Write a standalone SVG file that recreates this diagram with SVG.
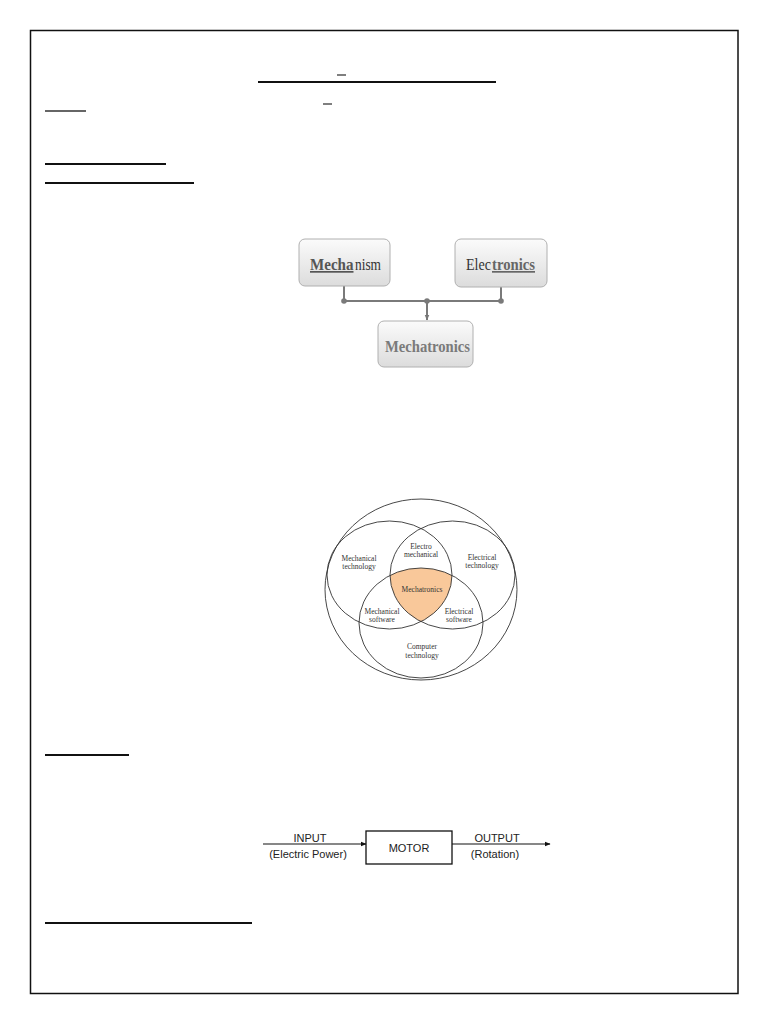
<svg xmlns="http://www.w3.org/2000/svg" width="768" height="1024" viewBox="0 0 768 1024">
<defs>
<linearGradient id="boxg" x1="0" y1="0" x2="0" y2="1">
<stop offset="0" stop-color="#fbfbfb"/>
<stop offset="1" stop-color="#dcdcdc"/>
</linearGradient>
<marker id="arr" viewBox="0 0 10 10" refX="9" refY="5" markerWidth="6" markerHeight="6" orient="auto" markerUnits="userSpaceOnUse">
<path d="M0,1 L10,5 L0,9 z" fill="#111"/>
</marker>
<marker id="garr" viewBox="0 0 10 10" refX="9" refY="5" markerWidth="6" markerHeight="6" orient="auto" markerUnits="userSpaceOnUse">
<path d="M0,1 L10,5 L0,9 z" fill="#777"/>
</marker>
<clipPath id="cL"><ellipse cx="389.5" cy="575" rx="62.5" ry="54"/></clipPath>
<clipPath id="cR"><ellipse cx="452.5" cy="575" rx="62.5" ry="54"/></clipPath>
</defs>
<style>
.ul{stroke:#111;stroke-width:2;}
.box{fill:url(#boxg);stroke:#b0b0b0;stroke-width:1;}
.conn{stroke:#7a7a7a;stroke-width:2;fill:none;}
.dot{fill:#7a7a7a;}
.ser{font-family:"Liberation Serif","Times New Roman",serif;font-size:17px;}
.vt{font-family:"Liberation Serif","Times New Roman",serif;font-size:7.5px;fill:#333;text-anchor:middle;}
.vl{fill:none;stroke:#333;stroke-width:0.9;}
.mt{font-family:"Liberation Sans",Arial,sans-serif;font-size:11px;fill:#222;text-anchor:middle;}
</style>

<rect x="30.5" y="30.5" width="707.5" height="963" fill="none" stroke="#111" stroke-width="1.5"/>

<g id="page-rules">
<line class="ul" x1="258" y1="82" x2="496" y2="82"/>
<line x1="337" y1="75" x2="346" y2="75" stroke="#555" stroke-width="1.5"/>
<line x1="323" y1="104" x2="332" y2="104" stroke="#555" stroke-width="1.5"/>
<line x1="45" y1="111" x2="86" y2="111" stroke="#333" stroke-width="1.5"/>
<line class="ul" x1="45" y1="164" x2="166" y2="164"/>
<line class="ul" x1="45" y1="183" x2="194" y2="183"/>
<line class="ul" x1="45" y1="755" x2="129" y2="755"/>
<line class="ul" x1="45" y1="923" x2="252" y2="923"/>
</g>

<g id="connectors">
<path class="conn" d="M344,285 V301 M501,285 V301 M344,301 H501"/>
<line class="conn" x1="427" y1="301" x2="427" y2="320" marker-end="url(#garr)"/>
<circle class="dot" cx="344" cy="301" r="2.8"/>
<circle class="dot" cx="427" cy="301" r="2.8"/>
<circle class="dot" cx="501" cy="301" r="2.8"/>
<line x1="263" y1="844" x2="366" y2="844" stroke="#111" stroke-width="1.2" marker-end="url(#arr)"/>
<line x1="452" y1="844" x2="550" y2="844" stroke="#111" stroke-width="1.2" marker-end="url(#arr)"/>
</g>

<g id="node-mechanism">
<rect class="box" x="299" y="239" width="91" height="47" rx="6"/>
<text class="ser" x="310" y="270" font-weight="bold" fill="#555" text-decoration="underline" textLength="43.5" lengthAdjust="spacingAndGlyphs">Mecha</text>
<text class="ser" x="355" y="270" fill="#333" textLength="26" lengthAdjust="spacingAndGlyphs">nism</text>
</g>
<g id="node-electronics">
<rect class="box" x="455" y="239" width="92" height="48" rx="6"/>
<text class="ser" x="466" y="270" fill="#333" textLength="25" lengthAdjust="spacingAndGlyphs">Elec</text>
<text class="ser" x="492" y="270" fill="#666" font-weight="bold" text-decoration="underline" textLength="43" lengthAdjust="spacingAndGlyphs">tronics</text>
</g>
<g id="node-mechatronics">
<rect class="box" x="378" y="321" width="95" height="46" rx="6"/>
<text class="ser" x="385" y="352" font-weight="bold" fill="#7a7a7a" textLength="85" lengthAdjust="spacingAndGlyphs">Mechatronics</text>
</g>

<g id="venn">
<g clip-path="url(#cL)"><g clip-path="url(#cR)"><ellipse cx="421" cy="623" rx="62" ry="55" fill="#f9c89a"/></g></g>
<ellipse class="vl" cx="421" cy="589.5" rx="96" ry="90.5"/>
<ellipse class="vl" cx="389.5" cy="575" rx="62.5" ry="54"/>
<ellipse class="vl" cx="452.5" cy="575" rx="62.5" ry="54"/>
<ellipse class="vl" cx="421" cy="623" rx="62" ry="55"/>
<text class="vt" x="421" y="549">Electro</text>
<text class="vt" x="421" y="557">mechanical</text>
<text class="vt" x="359" y="561">Mechanical</text>
<text class="vt" x="359" y="569">technology</text>
<text class="vt" x="482" y="560">Electrical</text>
<text class="vt" x="482" y="568">technology</text>
<text class="vt" x="422" y="592" font-size="8">Mechatronics</text>
<text class="vt" x="382" y="614">Mechanical</text>
<text class="vt" x="382" y="622">software</text>
<text class="vt" x="459" y="614">Electrical</text>
<text class="vt" x="459" y="622">software</text>
<text class="vt" x="422" y="649">Computer</text>
<text class="vt" x="422" y="658">technology</text>
</g>

<g id="node-motor">
<rect x="366" y="831" width="86" height="33" fill="#fff" stroke="#111" stroke-width="1.3"/>
<text class="mt" x="409" y="852" font-size="12">MOTOR</text>
</g>
<g id="labels-motor">
<text class="mt" x="310" y="842">INPUT</text>
<text class="mt" x="308" y="858">(Electric Power)</text>
<text class="mt" x="497" y="842">OUTPUT</text>
<text class="mt" x="495" y="858">(Rotation)</text>
</g>
</svg>
